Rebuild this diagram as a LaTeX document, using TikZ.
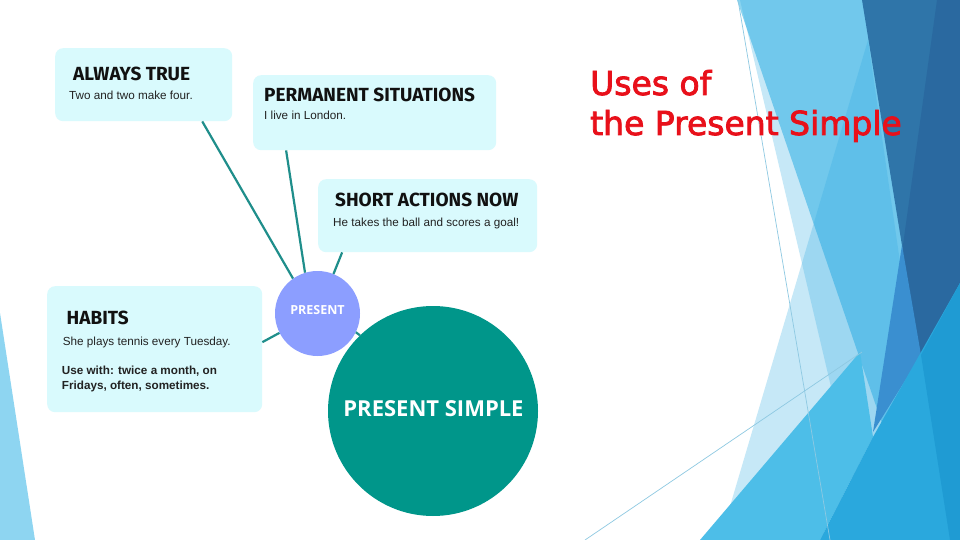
\documentclass[tikz,border=0pt]{standalone}
\usepackage{fontspec}
\setmainfont{Liberation Sans}
\newfontfamily\headfont{Fira Sans}
\newfontfamily\titlefont[FakeBold=2.5]{DejaVu Sans}
\newfontfamily\circfont{Open Sans}
\usetikzlibrary{calc}
\definecolor{boxc}{HTML}{D9FAFD}
\definecolor{connc}{HTML}{1F8E8B}
\definecolor{presc}{HTML}{8C9EFF}
\definecolor{simplec}{HTML}{00968A}
\definecolor{titlec}{HTML}{E8101A}
\definecolor{headc}{HTML}{111111}
\definecolor{bodyc}{HTML}{222222}
\definecolor{bgL}{HTML}{8AD4F0}
\definecolor{bgV}{HTML}{30AAE2}
\definecolor{bgM}{HTML}{4DBEE8}
\definecolor{bgD}{HTML}{2F75A9}
\definecolor{bgDD}{HTML}{2A69A0}
\definecolor{bgMB}{HTML}{3A8FD0}
\definecolor{bgB}{HTML}{2AA8DD}
\definecolor{bgBB}{HTML}{1F9BD3}
\definecolor{bgLeft}{HTML}{8ED5F1}
\definecolor{bgLine}{HTML}{8EC9E2}
\tikzset{
  box/.style={fill=boxc, rounded corners=8pt, inner sep=0pt, anchor=north west},
  head/.style={anchor=base west, inner sep=0pt, text=headc, font=\headfont\bfseries\fontsize{19}{22}\selectfont},
  body/.style={anchor=base west, inner sep=0pt, text=bodyc, font=\fontsize{11.7}{14}\selectfont},
  bbody/.style={body, font=\bfseries\fontsize{11.7}{14}\selectfont},
  conn/.style={draw=connc, line width=2.2pt},
  ctext/.style={anchor=base, inner sep=0pt, text=white, font=\circfont\bfseries},
  thinline/.style={draw=bgLine, line width=0.7pt}
}
\begin{document}
\begin{tikzpicture}[x=1pt,y=-1pt]
\useasboundingbox (0,0) rectangle (960,540);
\fill[white] (0,0) rectangle (960,540);
% background facets
\fill[bgLeft] (0,313) -- (35,540) -- (0,540) -- cycle;
\fill[bgL] (737,0) -- (960,0) -- (960,540) -- (922,540) -- cycle;
\fill[bgV, opacity=0.27] (740,0) -- (960,0) -- (960,540) -- (867,540) -- cycle;
\fill[bgV, opacity=0.27] (868,40) -- (940,540) -- (720,540) -- cycle;
\fill[bgD] (862,0) -- (960,0) -- (960,540) -- (950,540) -- cycle;
\fill[bgDD] (937,0) -- (960,0) -- (960,360) -- (887,360) -- cycle;
\fill[bgM] (700,540) -- (860,352) -- (873,437) -- (820,540) -- cycle;
\fill[bgMB] (902,245) -- (921,355) -- (873,432) -- cycle;
\fill[bgB] (960,283) -- (873,437) -- (820,540) -- (960,540) -- cycle;
\fill[bgBB] (960,283) -- (921,355) -- (950,540) -- (960,540) -- cycle;
\draw[thinline] (738,0) -- (830,540);
\draw[thinline] (585,540) -- (862,352);
% title
\node[anchor=base west, inner sep=0pt, align=left, text=titlec,
      font=\titlefont\fontsize{33}{40}\selectfont] (title) at (590,135)
      {Uses of\\the Present Simple};
% boxes
\node[box, minimum width=177pt, minimum height=73pt] (always) at (55,48) {};
\node[box, minimum width=243pt, minimum height=75pt] (perm) at (253,75) {};
\node[box, minimum width=219pt, minimum height=73pt] (short) at (318,179) {};
\node[box, minimum width=215pt, minimum height=126pt] (habits) at (47,286) {};
% circles
\node[circle, fill=presc, minimum size=85pt, inner sep=0pt] (present) at (317.5,313.5) {};
\node[circle, fill=simplec, minimum size=210pt, inner sep=0pt] (simple) at (433,411) {};
% connectors
\draw[conn] ($(always.south west)!0.83!(always.south east)$) -- (present.125);
\draw[conn] ($(perm.south west)!0.136!(perm.south east)$) -- (present.107);
\draw[conn] ($(short.south west)!0.11!(short.south east)$) -- (present.68);
\draw[conn] ($(habits.north east)!0.444!(habits.south east)$) -- (present.207);
\draw[conn] (present.-26) -- (simple.134);
% box texts
\node[head] (alwaysh) at (73,81) {ALWAYS TRUE};
\node[body] (alwaysb) at (69,99.3) {Two and two make four.};
\node[head] (permh) at (264,101.5) {PERMANENT SITUATIONS};
\node[body] (permb) at (264,120) {I live in London.};
\node[head] (shorth) at (335,206.5) {SHORT ACTIONS NOW};
\node[body] (shortb) at (333,226.5) {He takes the ball and scores a goal!};
\node[head] (habitsh) at (66.5,324.5) {HABITS};
\node[body] (habitsb) at (62.7,345) {She plays tennis every Tuesday.};
\node[bbody] (habitsc) at (61.7,374) {Use with: twice a month, on};
\node[bbody] (habitsd) at (61.7,389.3) {Fridays, often, sometimes.};
% circle texts
\node[ctext, font=\circfont\bfseries\fontsize{12.5}{15}\selectfont] (presentt) at (317.5,314) {PRESENT};
\node[ctext, font=\circfont\bfseries\fontsize{22}{26}\selectfont] (simplet) at (433.5,416) {PRESENT SIMPLE};
\end{tikzpicture}
\end{document}
